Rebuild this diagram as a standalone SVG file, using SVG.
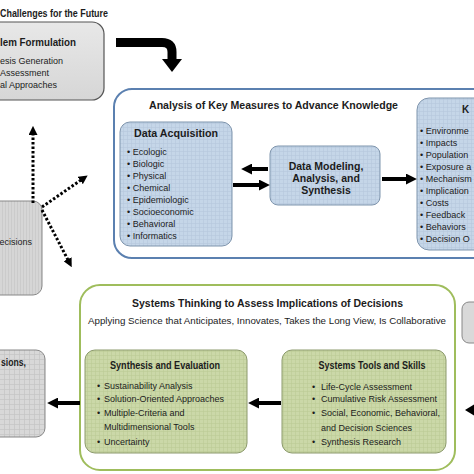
<svg xmlns="http://www.w3.org/2000/svg" width="474" height="474" viewBox="0 0 474 474">
<style>
text{font-family:"Liberation Sans",Arial,sans-serif;fill:#1c1c1c}
.t{font-weight:bold;font-size:10.5px}
.b{font-size:9px}
.bb{font-weight:bold;font-size:10px}
.blue{fill:url(#gBlue);stroke:#7f95ad;stroke-width:1}
.green{fill:url(#gGreen);stroke:#8c9a6c;stroke-width:1}
.conn{stroke:#000;stroke-width:4;fill:none}
.dot{stroke:#000;stroke-width:3;stroke-dasharray:2.5 2;fill:none}
</style>
<defs>
<pattern id="gBlue" width="4" height="4" patternUnits="userSpaceOnUse">
<rect width="4" height="4" fill="#c5d6e8"/>
<path d="M0,3.5H4M3.5,0V4" stroke="#b5c7db" stroke-width="0.6"/>
</pattern>
<pattern id="gGreen" width="4" height="4" patternUnits="userSpaceOnUse">
<rect width="4" height="4" fill="#cbd8a8"/>
<path d="M0,3.5H4M3.5,0V4" stroke="#bccb95" stroke-width="0.6"/>
</pattern>
<pattern id="gGrayV" width="3" height="3" patternUnits="userSpaceOnUse">
<rect width="3" height="3" fill="#d6d6d6"/>
<path d="M2.5,0V3" stroke="#c4c4c4" stroke-width="0.6"/>
</pattern>
<pattern id="gGrayG" width="5" height="5" patternUnits="userSpaceOnUse">
<rect width="5" height="5" fill="#d8d8d8"/>
<path d="M0,4.5H5M4.5,0V5" stroke="#c4c4c4" stroke-width="0.7"/>
</pattern>
<linearGradient id="gTop" x1="0" y1="0" x2="0" y2="1">
<stop offset="0" stop-color="#e8e8e8"/>
<stop offset="1" stop-color="#d6d6d6"/>
</linearGradient>
<marker id="ah" viewBox="0 0 10 10" refX="1" refY="5" markerWidth="11" markerHeight="11" markerUnits="userSpaceOnUse" orient="auto">
<path d="M0,0L10,5L0,10z" fill="#000"/>
</marker>
<marker id="ahd" viewBox="0 0 10 10" refX="1" refY="5" markerWidth="9" markerHeight="9" markerUnits="userSpaceOnUse" orient="auto">
<path d="M0,0L10,5L0,10z" fill="#000"/>
</marker>
</defs>

<text class="t" x="0" y="17" textLength="108" lengthAdjust="spacingAndGlyphs">Challenges for the Future</text>

<g id="problem-formulation">
<rect x="-20" y="22" width="124" height="78" rx="12" fill="url(#gTop)" stroke="#555" stroke-width="1.2"/>
<text class="t" x="0" y="46" textLength="76" lengthAdjust="spacingAndGlyphs">lem Formulation</text>
<text class="b" x="0" y="64">esis Generation</text>
<text class="b" x="0" y="76">Assessment</text>
<text class="b" x="0" y="88">al Approaches</text>
</g>

<g id="analysis">
<rect x="114" y="89" width="400" height="169" rx="18" fill="#fff" stroke="#5b80b0" stroke-width="2"/>
<text class="t" x="149" y="109" textLength="249" lengthAdjust="spacingAndGlyphs">Analysis of Key Measures to Advance Knowledge</text>
</g>

<g id="data-acquisition">
<rect class="blue" x="120" y="122" width="112" height="124" rx="10"/>
<text class="bb" x="176" y="137" text-anchor="middle" textLength="84" lengthAdjust="spacingAndGlyphs">Data Acquisition</text>
<text class="b" x="127" y="155">• Ecologic</text>
<text class="b" x="127" y="167">• Biologic</text>
<text class="b" x="127" y="179">• Physical</text>
<text class="b" x="127" y="191">• Chemical</text>
<text class="b" x="127" y="203">• Epidemiologic</text>
<text class="b" x="127" y="215">• Socioeconomic</text>
<text class="b" x="127" y="227">• Behavioral</text>
<text class="b" x="127" y="239">• Informatics</text>
</g>

<g id="data-modeling">
<rect class="blue" x="270" y="146" width="110" height="59" rx="8"/>
<text class="t" x="326" y="170" text-anchor="middle">Data Modeling,</text>
<text class="t" x="326" y="182" text-anchor="middle">Analysis, and</text>
<text class="t" x="326" y="194" text-anchor="middle">Synthesis</text>
</g>

<g id="key-measures">
<rect class="blue" x="417" y="98" width="100" height="152" rx="12"/>
<text class="bb" x="462" y="113">K</text>
<text class="b" x="420" y="134">• Environme</text>
<text class="b" x="420" y="146">• Impacts</text>
<text class="b" x="420" y="158">• Population</text>
<text class="b" x="420" y="170">• Exposure a</text>
<text class="b" x="420" y="182">• Mechanism</text>
<text class="b" x="420" y="194">• Implication</text>
<text class="b" x="420" y="206">• Costs</text>
<text class="b" x="420" y="218">• Feedback</text>
<text class="b" x="420" y="230">• Behaviors</text>
<text class="b" x="420" y="242">• Decision O</text>
</g>

<g id="decisions-mid">
<rect x="-20" y="201" width="62" height="94" rx="9" fill="url(#gGrayV)" stroke="#888" stroke-width="1"/>
<text class="b" x="32" y="245" text-anchor="end">ecisions</text>
</g>

<g id="decisions-bottom">
<rect x="-20" y="350" width="65" height="87" rx="9" fill="url(#gGrayG)" stroke="#888" stroke-width="1"/>
<text class="bb" x="1" y="366" textLength="25" lengthAdjust="spacingAndGlyphs">sions,</text>
</g>

<g id="systems-thinking">
<rect x="80" y="285" width="375" height="185" rx="20" fill="#fff" stroke="#9fbd5c" stroke-width="2"/>
<text class="t" x="132" y="307" textLength="271" lengthAdjust="spacingAndGlyphs">Systems Thinking to Assess Implications of Decisions</text>
<text class="b" x="88" y="324" textLength="358" lengthAdjust="spacingAndGlyphs">Applying Science that Anticipates, Innovates, Takes the Long View, Is Collaborative</text>
</g>

<g id="synthesis-evaluation">
<rect class="green" x="85" y="350" width="162" height="103" rx="10"/>
<text class="bb" x="165" y="369" text-anchor="middle" textLength="110" lengthAdjust="spacingAndGlyphs">Synthesis and Evaluation</text>
<text class="b"><tspan x="97" y="389">•</tspan><tspan x="104" y="389">Sustainability Analysis</tspan></text>
<text class="b"><tspan x="97" y="402">•</tspan><tspan x="104" y="402">Solution-Oriented Approaches</tspan></text>
<text class="b"><tspan x="97" y="416">•</tspan><tspan x="104" y="416">Multiple-Criteria and</tspan></text>
<text class="b" x="104" y="430">Multidimensional Tools</text>
<text class="b"><tspan x="97" y="445">•</tspan><tspan x="104" y="445">Uncertainty</tspan></text>
</g>

<g id="systems-tools">
<rect class="green" x="282" y="350" width="164" height="103" rx="10"/>
<text class="bb" x="372" y="369" text-anchor="middle" textLength="107" lengthAdjust="spacingAndGlyphs">Systems Tools and Skills</text>
<text class="b"><tspan x="312" y="390">•</tspan><tspan x="321" y="390">Life-Cycle Assessment</tspan></text>
<text class="b"><tspan x="312" y="402">•</tspan><tspan x="321" y="402">Cumulative Risk Assessment</tspan></text>
<text class="b"><tspan x="312" y="416">•</tspan><tspan x="321" y="416">Social, Economic, Behavioral,</tspan></text>
<text class="b" x="321" y="431">and Decision Sciences</text>
<text class="b"><tspan x="312" y="445">•</tspan><tspan x="321" y="445">Synthesis Research</tspan></text>
</g>

<g id="right-box">
<rect x="462" y="302" width="40" height="41" rx="7" fill="#d9d9d9" stroke="#888" stroke-width="1"/>
</g>

<g id="connectors">
<path d="M116,42.5H162Q172,42.5 172,52V60" stroke="#000" stroke-width="9" fill="none"/>
<polygon points="162,59 182,59 172,72" fill="#000"/>
<line class="conn" x1="268" y1="169" x2="251" y2="169" marker-end="url(#ah)"/>
<line class="conn" x1="233" y1="185" x2="260" y2="185" marker-end="url(#ah)"/>
<line class="conn" x1="382" y1="179" x2="407" y2="179" marker-end="url(#ah)"/>
<line class="conn" x1="281" y1="403" x2="258" y2="403" marker-end="url(#ah)"/>
<line class="conn" x1="80" y1="403" x2="57" y2="403" marker-end="url(#ah)"/>
<polygon points="465,410 474,404.5 474,415.5" fill="#000"/>
<line class="dot" x1="33" y1="203" x2="33" y2="134" marker-end="url(#ahd)"/>
<line class="dot" x1="42" y1="207" x2="81" y2="180" marker-end="url(#ahd)"/>
<line class="dot" x1="42" y1="210" x2="68" y2="260" marker-end="url(#ahd)"/>
</g>
</svg>
